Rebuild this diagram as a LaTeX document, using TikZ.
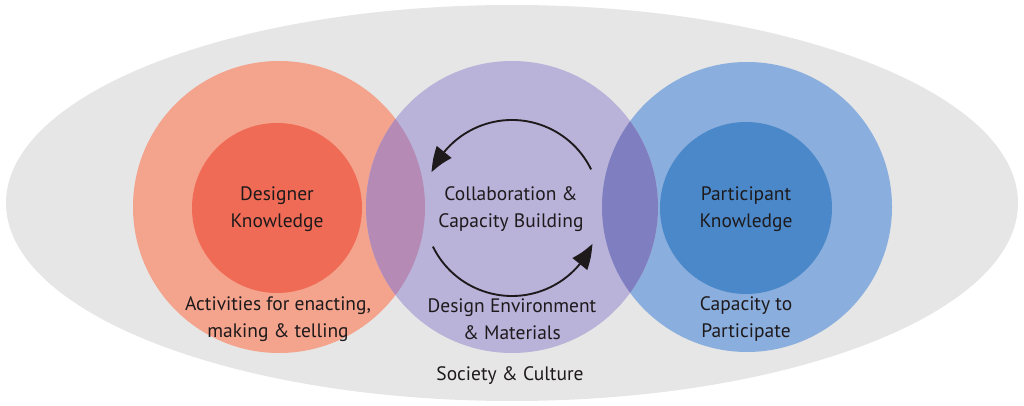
\documentclass[tikz,border=0pt]{standalone}
\usepackage{fontspec}
\setmainfont{PT Sans}
\usetikzlibrary{arrows.meta,bending}
\definecolor{bgE}{HTML}{E6E6E6}
\definecolor{lOut}{HTML}{F4A38C}
\definecolor{lIn}{HTML}{F06B56}
\definecolor{mid}{HTML}{B9B2D9}
\definecolor{lmOv}{HTML}{B58AB5}
\definecolor{rOut}{HTML}{8AAEDD}
\definecolor{rIn}{HTML}{4A88C9}
\definecolor{mrOv}{HTML}{7E7EC0}
\definecolor{txt}{HTML}{1E1A1C}
\begin{document}
\begin{tikzpicture}[x=0.75pt,y=0.75pt,
  lbl/.style={align=center,font=\fontsize{14.6}{20.5}\selectfont,text=txt,inner sep=0pt},
  cyc/.style={line width=1.4pt,draw=txt,-{Triangle[length=18pt,width=14pt,bend]}}]
\useasboundingbox (0,0) rectangle (1024,406);
\coordinate (E) at (512,203);
\coordinate (L) at (279,199);
\coordinate (Li) at (277,198);
\coordinate (M) at (512,199);
\coordinate (R) at (747,199);
\coordinate (Ri) at (746,198);
\coordinate (C) at (512,198);
% background ellipse
\fill[bgE] (E) ellipse [x radius=506, y radius=198];
% left and right circles
\fill[lOut] (L) circle [radius=146];
\fill[lIn] (Li) circle [radius=85];
\fill[rOut] (R) circle [radius=145];
\fill[rIn] (Ri) circle [radius=86];
% middle circle
\fill[mid] (M) circle [radius=146];
% overlaps
\begin{scope}
  \clip (L) circle [radius=146];
  \fill[lmOv] (M) circle [radius=146];
\end{scope}
\begin{scope}
  \clip (R) circle [radius=145];
  \fill[mrOv] (M) circle [radius=146];
\end{scope}
% cycle arrows
\draw[cyc] (C) ++(26:88) arc [start angle=26, end angle=156, radius=88];
\draw[cyc] (C) ++(206:88) arc [start angle=206, end angle=336, radius=88];
% labels
\node[lbl] (dk) at (277,197) {Designer\\Knowledge};
\node[lbl] (act) at (278,87) {Activities for enacting,\\making \& telling};
\node[lbl] (col) at (511,197) {Collaboration \&\\Capacity Building};
\node[lbl] (den) at (512,87) {Design Environment\\\& Materials};
\node[lbl] (pk) at (746,197) {Participant\\Knowledge};
\node[lbl] (cap) at (746,87) {Capacity to\\Participate};
\node[lbl] (soc) at (510,30) {Society \& Culture};
\end{tikzpicture}
\end{document}
